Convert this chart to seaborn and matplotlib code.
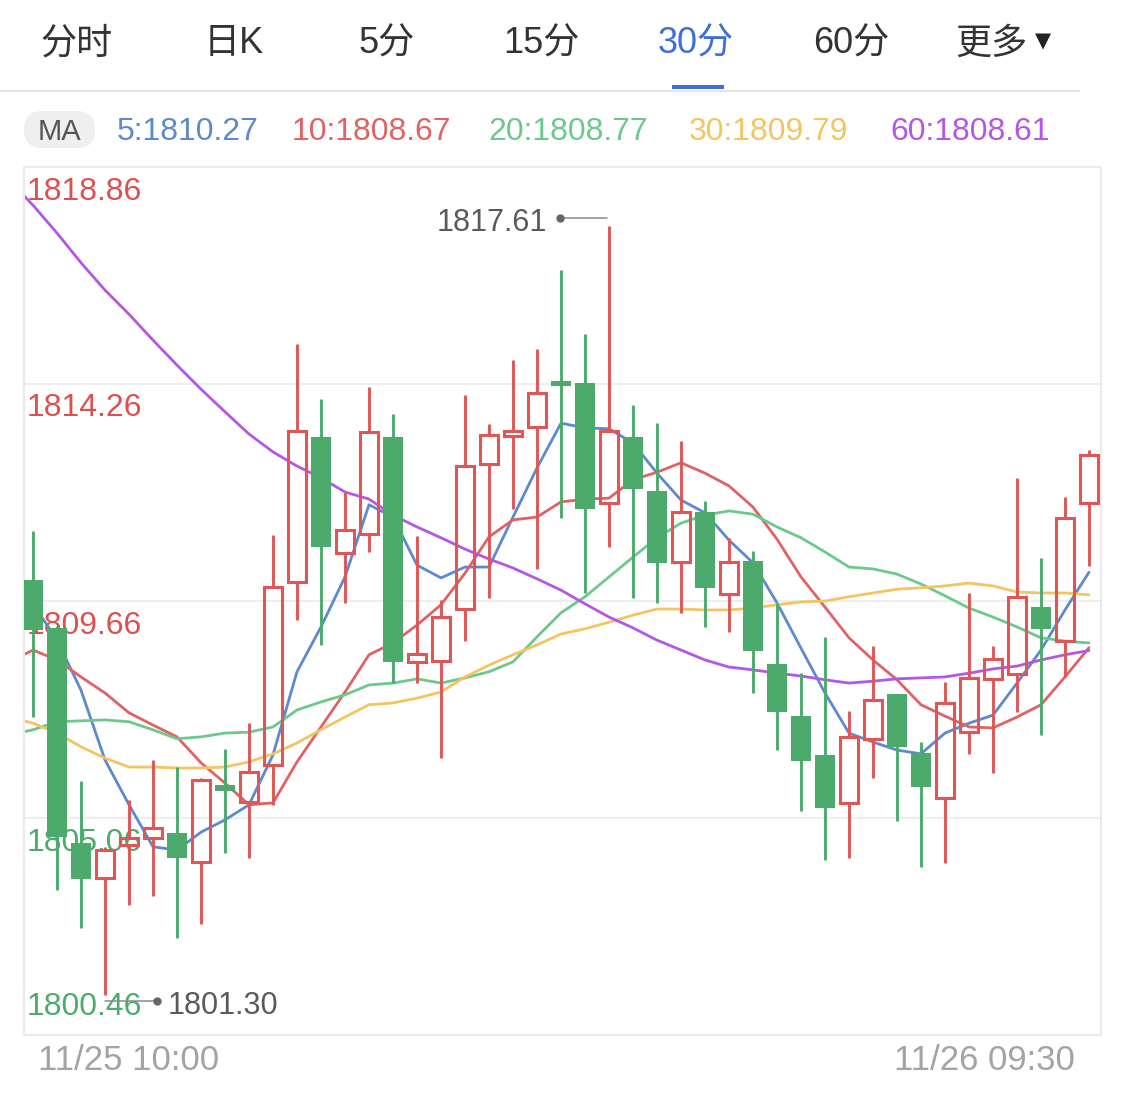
import numpy as np
import pandas as pd
import matplotlib
matplotlib.use("Agg")
import matplotlib.pyplot as plt
import matplotlib.transforms as mtransforms
from matplotlib.patches import FancyBboxPatch, Rectangle
import seaborn as sns

# ---------------- data ----------------
opens = [1810.11, 1809.09, 1804.53, 1803.79, 1804.49, 1804.64, 1804.74, 1804.13, 1805.76, 1805.40,
         1806.18, 1810.06, 1813.14, 1810.68, 1811.08, 1813.14, 1808.37, 1808.39, 1809.49, 1812.56,
         1813.16, 1813.35, 1814.32, 1814.28, 1811.74, 1813.14, 1811.99, 1810.49, 1811.55, 1809.81,
         1810.51, 1808.32, 1807.22, 1806.40, 1805.38, 1806.74, 1807.69, 1806.44, 1805.48, 1806.88,
         1808.01, 1808.11, 1809.53, 1808.81, 1811.74]
highs = [1811.14, 1809.13, 1805.84, 1804.45, 1805.44, 1806.29, 1806.14, 1805.91, 1806.52, 1807.07,
         1811.06, 1815.11, 1813.94, 1811.97, 1814.20, 1813.62, 1811.04, 1809.68, 1814.03, 1813.41,
         1814.77, 1815.00, 1816.68, 1815.32, 1817.61, 1813.81, 1813.43, 1813.05, 1811.78, 1811.00,
         1810.72, 1809.62, 1808.13, 1808.90, 1807.33, 1808.71, 1807.69, 1806.67, 1807.94, 1809.83,
         1808.71, 1812.27, 1810.57, 1811.86, 1812.86]
lows = [1807.20, 1803.53, 1802.73, 1801.30, 1803.22, 1803.41, 1802.52, 1802.81, 1804.32, 1804.21,
        1805.34, 1809.26, 1808.73, 1809.62, 1810.70, 1807.92, 1807.92, 1806.33, 1808.81, 1809.72,
        1811.61, 1810.34, 1811.42, 1809.83, 1810.80, 1809.72, 1809.62, 1809.41, 1809.11, 1809.00,
        1807.71, 1806.50, 1805.21, 1804.17, 1804.21, 1805.91, 1805.00, 1804.02, 1804.11, 1806.42,
        1806.01, 1807.31, 1806.82, 1808.05, 1810.40]
closes = [1809.05, 1804.66, 1803.77, 1804.38, 1804.64, 1804.85, 1804.21, 1805.87, 1805.63, 1806.04,
          1809.96, 1813.26, 1810.80, 1811.17, 1813.24, 1808.37, 1808.54, 1809.32, 1812.52, 1813.18,
          1813.26, 1814.07, 1814.22, 1811.61, 1813.26, 1812.03, 1810.47, 1811.55, 1809.94, 1810.49,
          1808.60, 1807.31, 1806.27, 1805.27, 1806.78, 1807.56, 1806.57, 1805.72, 1807.50, 1808.03,
          1808.43, 1809.75, 1809.07, 1811.42, 1812.76]

# moving averages, first value belongs to the (clipped) bar just left of the view
ma5 = [1810.15, 1809.60, 1808.83, 1807.77, 1806.29, 1805.34, 1804.45, 1804.38, 1804.76, 1805.02,
       1805.34, 1806.40, 1808.16, 1809.11, 1810.17, 1811.70, 1811.44, 1810.42, 1810.15, 1810.38,
       1810.38, 1811.44, 1812.48, 1813.43, 1813.33, 1813.31, 1813.01, 1812.37, 1811.80, 1811.53,
       1810.95, 1810.47, 1809.62, 1808.66, 1807.71, 1806.86, 1806.67, 1806.50, 1806.42, 1806.86,
       1807.07, 1807.24, 1807.92, 1808.62, 1809.47, 1810.27]
ma10 = [1808.37, 1808.62, 1808.41, 1808.05, 1807.71, 1807.29, 1807.03, 1806.78, 1806.23, 1805.80,
        1805.34, 1805.38, 1806.25, 1806.99, 1807.73, 1808.52, 1808.77, 1809.15, 1809.58, 1810.25,
        1811.02, 1811.38, 1811.44, 1811.76, 1811.82, 1811.84, 1812.23, 1812.39, 1812.59, 1812.37,
        1812.10, 1811.65, 1810.97, 1810.17, 1809.53, 1808.88, 1808.41, 1807.99, 1807.46, 1807.22,
        1806.99, 1806.97, 1807.20, 1807.46, 1808.05, 1808.67]
ma20 = [1806.82, 1806.93, 1807.10, 1807.12, 1807.14, 1807.10, 1806.93, 1806.74, 1806.78, 1806.86,
        1806.88, 1806.99, 1807.35, 1807.52, 1807.67, 1807.88, 1807.92, 1808.01, 1807.92, 1808.03,
        1808.16, 1808.37, 1808.90, 1809.41, 1809.75, 1810.17, 1810.59, 1811.00, 1811.31, 1811.48,
        1811.57, 1811.50, 1811.23, 1811.00, 1810.70, 1810.38, 1810.34, 1810.23, 1810.02, 1809.77,
        1809.51, 1809.32, 1809.11, 1808.88, 1808.81, 1808.77]
ma30 = [1807.20, 1807.07, 1806.86, 1806.57, 1806.33, 1806.14, 1806.14, 1806.12, 1806.12, 1806.14,
        1806.25, 1806.42, 1806.65, 1806.93, 1807.20, 1807.46, 1807.50, 1807.60, 1807.73, 1808.05,
        1808.30, 1808.52, 1808.73, 1808.96, 1809.07, 1809.21, 1809.36, 1809.49, 1809.49, 1809.47,
        1809.47, 1809.51, 1809.58, 1809.64, 1809.66, 1809.75, 1809.83, 1809.91, 1809.94, 1809.98,
        1810.04, 1809.98, 1809.85, 1809.83, 1809.83, 1809.79]
ma60 = [1818.58, 1818.05, 1817.46, 1816.83, 1816.25, 1815.74, 1815.19, 1814.66, 1814.15, 1813.67,
        1813.20, 1812.82, 1812.52, 1812.27, 1811.97, 1811.82, 1811.48, 1811.23, 1811.00, 1810.76,
        1810.55, 1810.36, 1810.13, 1809.89, 1809.60, 1809.32, 1809.09, 1808.83, 1808.62, 1808.41,
        1808.26, 1808.20, 1808.13, 1808.07, 1807.99, 1807.92, 1807.96, 1808.01, 1808.03, 1808.05,
        1808.13, 1808.22, 1808.28, 1808.41, 1808.52, 1808.61]

y_levels = [1818.86, 1814.26, 1809.66, 1805.06, 1800.46]
tabs = ["分时", "日K", "5分", "15分", "30分", "60分", "更多"]
active_tab = "30分"
date_labels = ["11/25 10:00", "11/26 09:30"]

# ---------------- style ----------------
RED = "#DF5656"
GREEN = "#4DAA6D"
ma_periods = [5, 10, 20, 30, 60]
ma_values = [ma5, ma10, ma20, ma30, ma60]
ma_colors = ["#5B8AD0", "#E06262", "#6CC98B", "#F2C462", "#B456E6"]

sns.set_theme(style="white")
plt.rcParams["font.family"] = ["Liberation Sans", "Noto Sans CJK SC", "DejaVu Sans"]

W, H = 1125, 1097
fig = plt.figure(figsize=(W / 100, H / 100), dpi=100)
fig.patch.set_facecolor("white")
ax = fig.add_axes([24 / W, 1 - 1035 / H, (1101 - 24) / W, (1035 - 167) / H])
ax.set_facecolor("white")

# grid
for v in y_levels[1:-1]:
    ax.axhline(v, color="#EEEEEE", lw=1.5, zorder=0)
for s in ax.spines.values():
    s.set_color("#EAEAEA")
    s.set_linewidth(1.5)

# y labels (under the marks)
for i, v in enumerate(y_levels):
    col = "#DD5050" if i < 3 else "#4CAB6D"
    dy = -23.4 if i < len(y_levels) - 1 else 14.6
    ax.annotate(f"{v:.2f}", xy=(0, v), xycoords=ax.get_yaxis_transform(),
                xytext=(2.2, dy), textcoords="offset points", ha="left", va="baseline",
                fontsize=23, color=col, zorder=1)

# MA lines
ma_x = np.arange(-1, len(opens))
frames = []
for p, vals in zip(ma_periods, ma_values):
    frames.append(pd.DataFrame({"idx": ma_x, "value": vals, "ma": f"MA{p}"}))
ma_df = pd.concat(frames, ignore_index=True)
sns.lineplot(data=ma_df, x="idx", y="value", hue="ma",
             palette={f"MA{p}": c for p, c in zip(ma_periods, ma_colors)},
             estimator=None, sort=False, legend=False, linewidth=2.0, ax=ax, zorder=2)
for ln in ax.get_lines():
    ln.set_solid_joinstyle("round")

# candles
idx = np.arange(len(opens))
o, h, l, c = map(np.array, (opens, highs, lows, closes))
up = c >= o
top = np.maximum(o, c)
bot = np.minimum(o, c)
ax.vlines(idx[up], top[up], h[up], color=RED, lw=2.1, zorder=3)
ax.vlines(idx[up], l[up], bot[up], color=RED, lw=2.1, zorder=3)
ax.vlines(idx[~up], l[~up], h[~up], color=GREEN, lw=2.1, zorder=3)
ax.bar(idx[up], (top - bot)[up], bottom=bot[up], width=0.75, facecolor="none",
       edgecolor=RED, linewidth=2.2, zorder=3.5)
ax.bar(idx[~up], (top - bot)[~up], bottom=bot[~up], width=0.85, color=GREEN,
       linewidth=0, zorder=3.5)

ax.set_xlim(-0.375, 44.5)
ax.set_ylim(y_levels[-1], y_levels[0])
ax.set_xticks([])
ax.set_yticks([])
ax.set_xlabel("")
ax.set_ylabel("")

# high / low markers
hi_i = int(np.argmax(h))
lo_i = int(np.argmin(l))
tr_hi = mtransforms.offset_copy(ax.transData, fig=fig, x=0, y=8, units="dots")
tr_lo = mtransforms.offset_copy(ax.transData, fig=fig, x=0, y=-6, units="dots")
ax.plot([hi_i - 2.04, hi_i - 0.08], [h[hi_i], h[hi_i]], transform=tr_hi,
        color="#8C8C8C", lw=1.1, zorder=5, clip_on=False)
ax.plot([hi_i - 2.04], [h[hi_i]], "o", ms=5, color="#666666", transform=tr_hi, zorder=5)
ax.annotate(f"{h[hi_i]:.2f}", xy=(hi_i - 2.04, h[hi_i]), xycoords=tr_hi,
            xytext=(-9.4, -9.4), textcoords="offset points", ha="right", va="baseline",
            fontsize=22, color="#5A5A5A", zorder=5)
ax.plot([lo_i, lo_i + 2.17], [l[lo_i], l[lo_i]], transform=tr_lo,
        color="#8C8C8C", lw=1.1, zorder=5)
ax.plot([lo_i + 2.17], [l[lo_i]], "o", ms=5, color="#666666", transform=tr_lo, zorder=5)
ax.annotate(f"{l[lo_i]:.2f}", xy=(lo_i + 2.17, l[lo_i]), xycoords=tr_lo,
            xytext=(7.9, -9.0), textcoords="offset points", ha="left", va="baseline",
            fontsize=22, color="#5A5A5A", zorder=5)

# ---------------- header ----------------
def ftext(xpx, ypx, s, **kw):
    fig.text(xpx / W, 1 - ypx / H, s, va="baseline", **kw)

tab_centers = [77, 234, 387, 541, 696, 851, 991]
for t, xc in zip(tabs, tab_centers):
    col = "#3D6FD9" if t == active_tab else "#333333"
    ftext(xc, 53.5, t, ha="center", fontsize=26, color=col)
ftext(1043, 47, "▼", ha="center", fontsize=15, color="#222222",
      family=["DejaVu Sans"])

idt = mtransforms.IdentityTransform()
fig.add_artist(Rectangle((672, H - 89), 52, 4, transform=idt, color="#3D6FD9", lw=0))
fig.add_artist(Rectangle((0, H - 92), 1080, 2, transform=idt, color="#E4E4E4", lw=0))
fig.add_artist(FancyBboxPatch((24, H - 148), 71, 37,
                              boxstyle="round,pad=0,rounding_size=18",
                              transform=idt, facecolor="#EFEFEF", edgecolor="none"))
ftext(59, 140.5, "MA", ha="center", fontsize=21, color="#555555")

ma_lefts = [117, 292, 488, 689, 890]
for p, vals, col, xl in zip(ma_periods, ma_values, ma_colors, ma_lefts):
    ftext(xl, 140.5, f"{p}:{vals[-1]:.2f}", ha="left", fontsize=23, color=col)

# dates
ftext(38, 1069.5, date_labels[0], ha="left", fontsize=25, color="#A3A3A3")
ftext(1075, 1069.5, date_labels[1], ha="right", fontsize=25, color="#A3A3A3")

fig.savefig("out.png", dpi=100, facecolor="white")
